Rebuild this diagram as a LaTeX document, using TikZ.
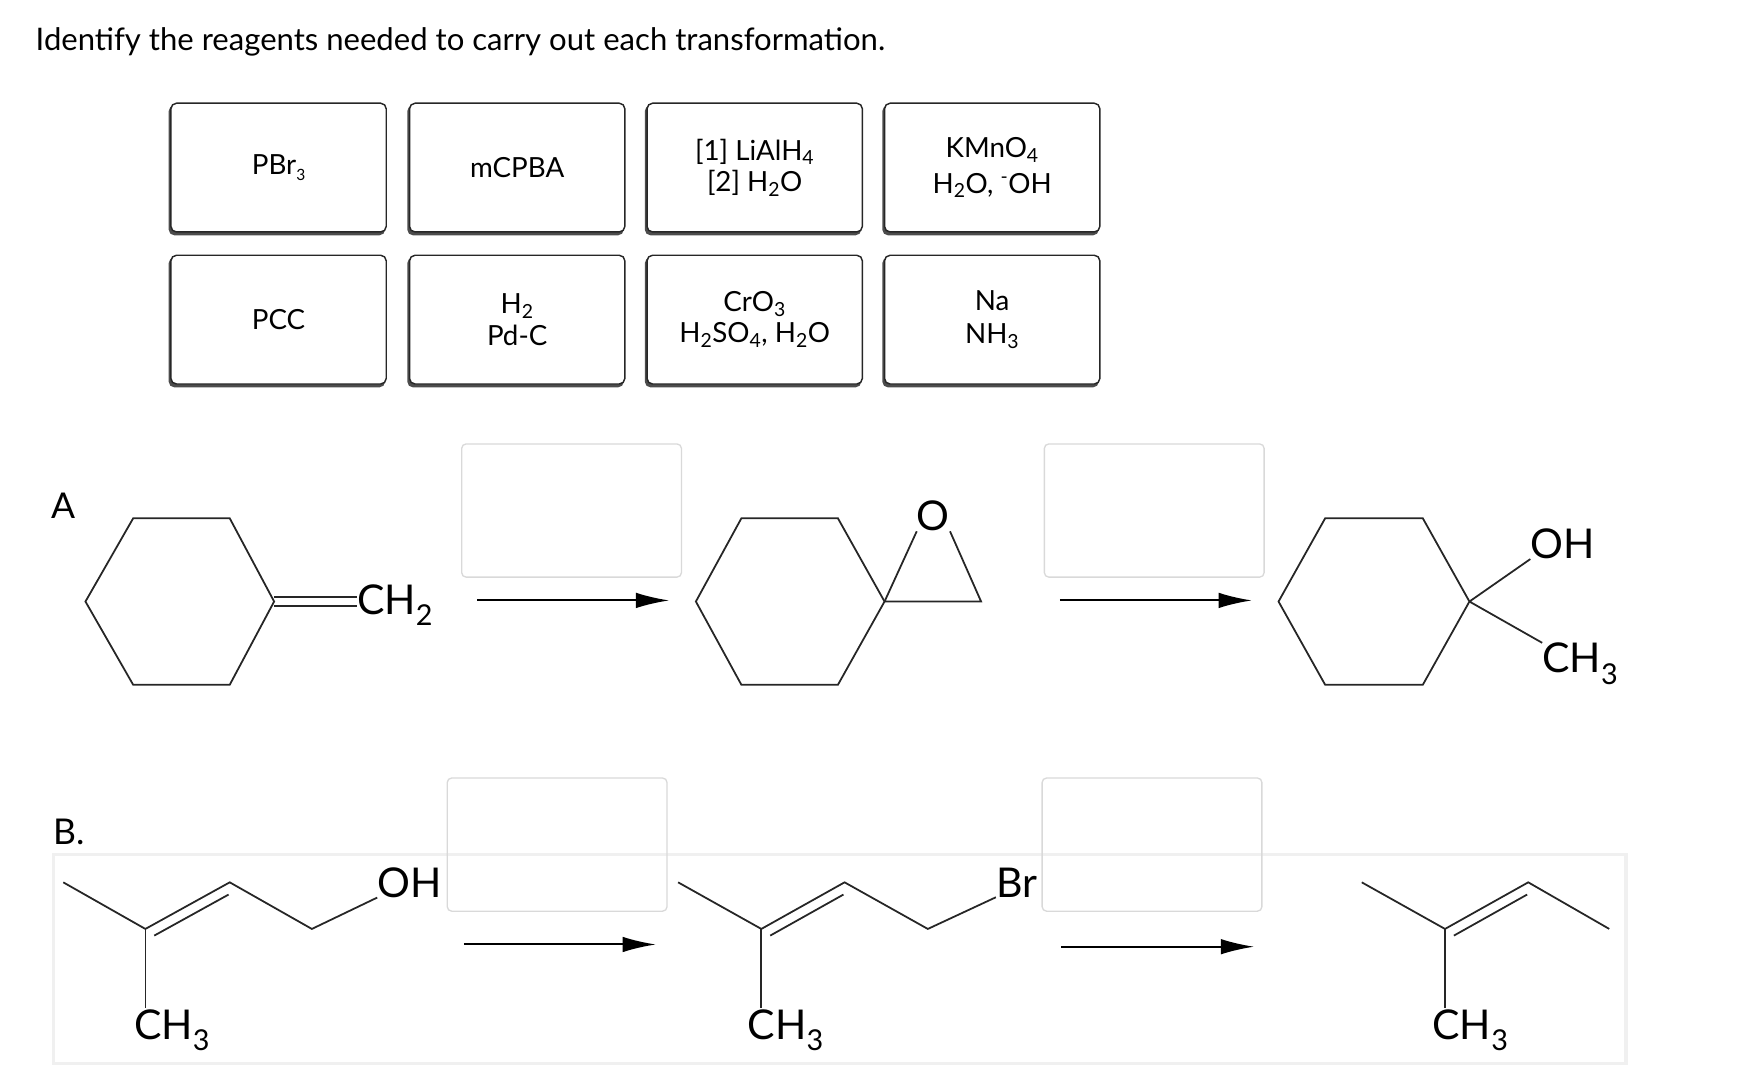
\documentclass[tikz,border=0pt]{standalone}
\usepackage{fontspec}
\setmainfont{Lato}
\usetikzlibrary{arrows.meta}
\newcommand{\sbs}[1]{\textsubscript{#1}}
\begin{document}
\begin{tikzpicture}[x=1pt,y=-1pt,
 card/.style={draw=black!85,line width=1.3pt,rounded corners=5pt,fill=white,minimum width=194pt,minimum height=116pt,font=\fontsize{25}{28}\selectfont,align=center},
 drop/.style={draw=black!15,line width=1.2pt,rounded corners=4pt,minimum width=198pt,minimum height=120pt},
 bond/.style={line width=1.6pt,black!85},
 arr/.style={line width=1.8pt,-{Latex[length=30pt,width=14pt]}},
 lab/.style={font=\fontsize{37}{40}\selectfont,inner sep=0pt}]
\useasboundingbox (0,0) rectangle (1566,983);
\node[anchor=west,font=\fontsize{28}{32}\selectfont,inner sep=0pt] (title) at (32,38) {Identify the reagents needed to carry out each transformation.};
% cards
\foreach \n/\x/\y/\t in {c1/251/151/{PBr\raisebox{-6pt}{\fontsize{14}{14}\selectfont 3}},c2/466/151/{mCPBA},c3/680/151/{[1] LiAlH\sbs{4}\\[0pt][2] H\sbs{2}O},c4/894/151/{KMnO\sbs{4}\\[4pt]H\sbs{2}O, \textsuperscript{-}OH},
 c5/251/288/{PCC},c6/466/288/{H\sbs{2}\\[0pt]Pd-C},c7/680/288/{CrO\sbs{3}\\[0pt]H\sbs{2}SO\sbs{4}, H\sbs{2}O},c8/894/288/{Na\\[2pt]NH\sbs{3}}}{
 \fill[black!70,rounded corners=5pt] (\x-99,\y-56) rectangle (\x+96,\y+61);
 \node[card] (\n) at (\x,\y) {\t};}
% drop boxes
\draw[black!6,line width=3pt] (48,770) rectangle (1465,958);
\node[drop] (d1) at (515,460) {};
\node[drop] (d2) at (1040,460) {};
\node[drop] (d3) at (502,761) {};
\node[drop] (d4) at (1038,761) {};
\node[lab,font=\fontsize{32}{34}\selectfont] (la) at (57,456) {A};
\node[lab,font=\fontsize{32}{34}\selectfont] (lb) at (62,750) {B.};
% A1
\draw[bond] (120,467)--(207,467)--(247,542)--(207,617)--(120,617)--(77,542)--cycle;
\node[lab] (ch2) at (356,545) {CH\sbs{2}};
\draw[bond] (247,538)--(ch2.west|-0,538) (247,546)--(ch2.west|-0,546);
\coordinate (a1s) at (430,541); \coordinate (a1e) at (603,541);
\draw[arr] (a1s)--(a1e);
% A2
\draw[bond] (668,467)--(755,467)--(797,542)--(755,617)--(668,617)--(627,542)--cycle;
\node[lab] (ox) at (841,465) {O};
\draw[bond] (797,542)--(ox.south west) (ox.south east)--(884,542)--(797,542);
\coordinate (a2s) at (955,541); \coordinate (a2e) at (1128,541);
\draw[arr] (a2s)--(a2e);
% A3
\draw[bond] (1194,467)--(1282,467)--(1324,542)--(1282,617)--(1194,617)--(1152,542)--cycle;
\node[lab] (oh1) at (1408,490) {OH};
\node[lab] (me1) at (1424,598) {CH\sbs{3}};
\draw[bond] (1324,542)--(oh1.south west) (1324,542)--(me1.north west);
% B1
\node[lab] (oh2) at (369,795) {OH};
\draw[bond] (57,795)--(131,837)--(207,795)--(281,837)--(oh2.south west);
\draw[bond] (139,843)--(206,806);
\node[lab] (m1) at (155,928) {CH\sbs{3}};
\draw[bond] (131,837)--(131,908);
\coordinate (b1s) at (418,851); \coordinate (b1e) at (591,851);
\draw[arr] (b1s)--(b1e);
% B2
\node[lab] (br) at (916,795) {Br};
\draw[bond] (611,795)--(686,837)--(761,795)--(836,837)--(br.south west);
\draw[bond] (694,843)--(760,806);
\node[lab] (m2) at (708,928) {CH\sbs{3}};
\draw[bond] (686,837)--(686,908);
\coordinate (b2s) at (956,853); \coordinate (b2e) at (1130,853);
\draw[arr] (b2s)--(b2e);
% B3
\draw[bond] (1227,795)--(1302,837)--(1377,795)--(1450,837);
\draw[bond] (1310,843)--(1376,806);
\node[lab] (m3) at (1325,928) {CH\sbs{3}};
\draw[bond] (1302,837)--(1302,908);
\end{tikzpicture}
\end{document}
